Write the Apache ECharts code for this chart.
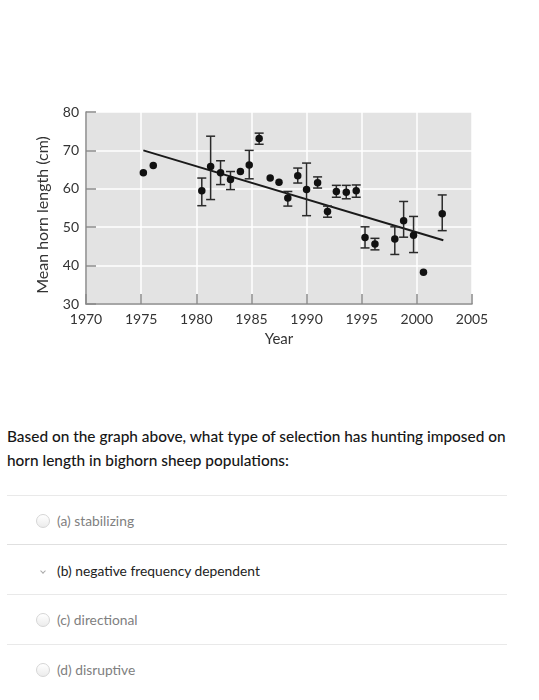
<!DOCTYPE html>
<html>
<head>
<meta charset="utf-8">
<script src="https://cdn.jsdelivr.net/npm/echarts@6/dist/echarts.min.js"></script>
<style>
  html, body { margin: 0; padding: 0; background: #fff; width: 539px; height: 700px; overflow: hidden; font-family: Lato, "Open Sans", sans-serif; }
  #chart { position: absolute; left: 0; top: 0; width: 539px; height: 360px; }
  .q { position: absolute; left: 7px; top: 424px; width: 510px; font-size: 15.4px; line-height: 24px; color: #161616; font-weight: 500; }
  .sep { position: absolute; left: 7px; width: 500px; height: 1px; background: #e9e9e9; }
  .opt { position: absolute; left: 57px; font-size: 13.8px; line-height: 18px; color: #808080; }
  .opt.sel { color: #222; }
  .radio { position: absolute; width: 12px; height: 12px; border-radius: 50%; border: 1px solid #d6d6d6; background: linear-gradient(#ffffff, #ececec); }
  .chev { position: absolute; width: 3px; height: 3px; border-right: 1px solid #aaa; border-bottom: 1px solid #aaa; transform: rotate(45deg); }
</style>
</head>
<body>
<div id="chart"></div>
<div class="q">Based on the graph above, what type of selection has hunting imposed on horn length in bighorn sheep populations:</div>
<div class="sep" style="top:495px"></div>
<div class="sep" style="top:544px; background:#e0e0e0"></div>
<div class="sep" style="top:594px"></div>
<div class="sep" style="top:644px"></div>
<div class="radio" style="left:36px; top:514px"></div>
<div class="opt" style="top:512px">(a) stabilizing</div>
<div class="chev" style="left:41px; top:569px"></div>
<div class="opt sel" style="top:562px">(b) negative frequency dependent</div>
<div class="radio" style="left:36px; top:613px"></div>
<div class="opt" style="top:611px">(c) directional</div>
<div class="radio" style="left:36px; top:663px"></div>
<div class="opt" style="top:661px">(d) disruptive</div>
<script>
const years = [1975.2, 1976.1, 1980.5, 1981.3, 1982.2, 1983.1, 1984.0, 1984.8, 1985.7, 1986.7, 1987.5, 1988.3, 1989.2, 1990.0, 1991.0, 1991.9, 1992.7, 1993.6, 1994.5, 1995.3, 1996.2, 1998.0, 1998.8, 1999.7, 2000.6, 2002.3];
const means = [64.2, 66.1, 59.5, 65.8, 64.2, 62.4, 64.5, 66.2, 73.1, 62.8, 61.7, 57.6, 63.4, 59.8, 61.6, 54.1, 59.3, 59.1, 59.5, 47.3, 45.6, 46.9, 51.7, 47.9, 38.3, 53.5];
const errHigh = [null, null, 62.8, 73.7, 67.3, 64.5, null, 70.0, 74.5, null, null, 59.3, 65.4, 66.7, 63.1, 55.5, 60.9, 60.9, 61.0, 50.1, 47.1, 50.1, 56.7, 52.8, null, 58.4];
const errLow = [null, null, 55.6, 57.2, 61.1, 59.8, null, 62.6, 71.6, null, null, 55.5, 61.5, 53.0, 60.2, 52.6, 57.8, 57.4, 57.8, 44.6, 44.1, 42.9, 47.4, 43.4, null, 49.1];
const trendYears = [1975.2, 2002.4];
const trendValues = [70.0, 46.6];
const xTicks = [1970, 1975, 1980, 1985, 1990, 1995, 2000, 2005];
const yTicks = [30, 40, 50, 60, 70, 80];

const chart = echarts.init(document.getElementById('chart'), null, { renderer: 'canvas' });
const pts = years.map((y, i) => [y, means[i]]);
const errs = [];
years.forEach((y, i) => { if (errLow[i] != null) errs.push([y, errLow[i], errHigh[i]]); });
const trend = trendYears.map((y, i) => [y, trendValues[i]]);

const axisCol = '#8a8a8a';
const labelStyle = { color: '#333', fontSize: 14, fontFamily: 'Lato' };

chart.setOption({
  animation: false,
  grid: { left: 86, right: 67, top: 112, bottom: 56, show: true, backgroundColor: '#e3e3e3', borderWidth: 0 },
  xAxis: {
    type: 'value', min: xTicks[0], max: xTicks[xTicks.length - 1], interval: 5,
    name: 'Year', nameLocation: 'middle', nameGap: 28,
    nameTextStyle: { color: '#333', fontSize: 15, fontFamily: 'Lato' },
    axisLine: { lineStyle: { color: axisCol, width: 1.5 } },
    axisTick: { inside: true, length: 10, lineStyle: { color: axisCol, width: 1.5 } },
    splitLine: { show: true, lineStyle: { color: '#ffffff', width: 1.5 } },
    axisLabel: Object.assign({ margin: 8, formatter: v => xTicks.includes(v) ? String(v) : '' }, labelStyle)
  },
  yAxis: {
    type: 'value', min: yTicks[0], max: yTicks[yTicks.length - 1], interval: 10,
    name: 'Mean horn length (cm)', nameLocation: 'middle', nameGap: 35,
    nameTextStyle: { color: '#333', fontSize: 16, fontFamily: 'Lato', padding: [0, 14, 0, 0] },
    axisLine: { show: true, lineStyle: { color: axisCol, width: 1.5 } },
    axisTick: { show: true, inside: true, length: 10, lineStyle: { color: axisCol, width: 1.5 } },
    splitLine: { show: true, lineStyle: { color: '#ffffff', width: 1.5 } },
    axisLabel: Object.assign({ margin: 7, formatter: v => yTicks.includes(v) ? String(v) : '' }, labelStyle)
  },
  series: [
    {
      type: 'line', data: trend, symbol: 'none', z: 2,
      lineStyle: { color: '#1a1a1a', width: 2 }
    },
    {
      type: 'custom', data: errs, z: 3,
      renderItem: function (params, api) {
        const x = api.value(0);
        const lo = api.coord([x, api.value(1)]);
        const hi = api.coord([x, api.value(2)]);
        const w = 4.5;
        const st = { stroke: '#2a2a2a', lineWidth: 1.5 };
        return {
          type: 'group',
          children: [
            { type: 'line', shape: { x1: lo[0], y1: lo[1], x2: hi[0], y2: hi[1] }, style: st },
            { type: 'line', shape: { x1: lo[0] - w, y1: lo[1], x2: lo[0] + w, y2: lo[1] }, style: st },
            { type: 'line', shape: { x1: hi[0] - w, y1: hi[1], x2: hi[0] + w, y2: hi[1] }, style: st }
          ]
        };
      }
    },
    {
      type: 'scatter', data: pts, symbol: 'circle', symbolSize: 7.5, z: 4,
      itemStyle: { color: '#111', opacity: 1 }
    }
  ]
});
</script>
</body>
</html>
